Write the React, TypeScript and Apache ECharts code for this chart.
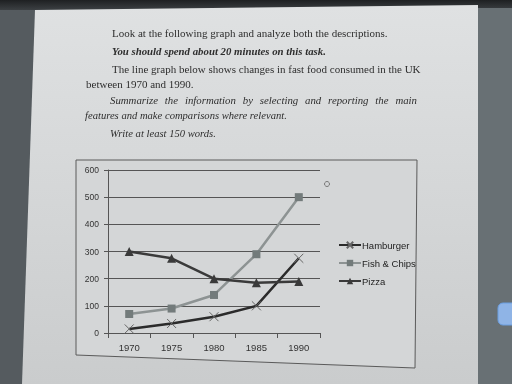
import React, { useEffect, useRef } from "react";
import * as echarts from "echarts";

const years = ["1970", "1975", "1980", "1985", "1990"];
const hamburger = [15, 35, 60, 100, 275];
const fishChips = [70, 90, 140, 290, 500];
const pizza = [300, 275, 200, 185, 190];

const textLines = [
  { t: "Look at the following graph and analyze both the descriptions.", x: 112, y: 33, s: "normal", w: "normal", f: 11, j: 0 },
  { t: "You should spend about 20 minutes on this task.", x: 112, y: 51, s: "italic", w: "bold", f: 10.8, j: 0 },
  { t: "The line graph below shows changes in fast food consumed in the UK", x: 112, y: 69, s: "normal", w: "normal", f: 11, j: 0 },
  { t: "between 1970 and 1990.", x: 86, y: 84, s: "normal", w: "normal", f: 11, j: 0 },
  { t: "Summarize the information by selecting and reporting the main", x: 110, y: 100, s: "italic", w: "normal", f: 10.8, j: 417 },
  { t: "features and make comparisons where relevant.", x: 85, y: 115, s: "italic", w: "normal", f: 10.6, j: 0 },
  { t: "Write at least 150 words.", x: 110, y: 133, s: "italic", w: "normal", f: 10.6, j: 0 },
];

export default function App() {
  const ref = useRef<HTMLDivElement>(null);
  useEffect(() => {
    document.body.style.margin = "0";
    const chart = echarts.init(ref.current!, null, { renderer: "svg" });
    const graphics: any[] = [
      { type: "rect", z: -10, shape: { x: 0, y: 0, width: 512, height: 384 }, style: { fill: "#555b5f" } },
      {
        type: "rect", z: -10, shape: { x: 0, y: 0, width: 512, height: 10 },
        style: { fill: new echarts.graphic.LinearGradient(0, 0, 0, 1, [{ offset: 0, color: "#1e2022" }, { offset: 1, color: "#3c4043" }]) },
      },
      { type: "rect", z: -10, shape: { x: 478, y: 8, width: 34, height: 376 }, style: { fill: "#687074" } },
      {
        type: "polygon", z: -9,
        shape: { points: [[35, 10], [478, 5], [478, 384], [22, 384]] },
        style: {
          fill: new echarts.graphic.LinearGradient(0, 0, 0, 1, [
            { offset: 0, color: "#dfe1e2" },
            { offset: 1, color: "#cacccd" },
          ]),
        },
      },
      {
        type: "rect", z: -8, shape: { x: 498, y: 303, width: 20, height: 22, r: 5 },
        style: { fill: "#8fb4e6", stroke: "#6b9ee0", lineWidth: 1 },
      },
      {
        type: "polygon", z: -7,
        shape: { points: [[76, 160], [417, 160], [415, 368], [76, 355]] },
        style: { fill: "#d4d6d7", stroke: "#5a5a5a", lineWidth: 1 },
      },
      { type: "circle", z: -6, shape: { cx: 327, cy: 184, r: 2.5 }, style: { fill: "none", stroke: "#777", lineWidth: 1 } },
    ];
    const ctx = document.createElement("canvas").getContext("2d")!;
    textLines.forEach((l) => {
      const font = `${l.s} ${l.w} ${l.f}px "Liberation Serif", "DejaVu Serif", serif`;
      if (l.j) {
        ctx.font = font;
        const words = l.t.split(" ");
        const widths = words.map((w) => ctx.measureText(w).width);
        const total = widths.reduce((a, b) => a + b, 0);
        const gap = (l.j - l.x - total) / (words.length - 1);
        let cx = l.x;
        words.forEach((w, i) => {
          graphics.push({
            type: "text", x: cx, y: l.y,
            style: { text: w, fill: "#2e2e2e", font, verticalAlign: "middle" },
          });
          cx += widths[i] + gap;
        });
      } else {
        graphics.push({
          type: "text", x: l.x, y: l.y,
          style: { text: l.t, fill: "#2e2e2e", font, verticalAlign: "middle" },
        });
      }
    });
    const sans = "Liberation Sans, Arial, sans-serif";
    chart.setOption({
      animation: false,
      backgroundColor: "transparent",
      graphic: graphics,
      grid: { left: 108, right: 192, top: 170, bottom: 51, containLabel: false },
      legend: {
        orient: "vertical",
        left: 333,
        top: 235,
        itemGap: 8,
        itemWidth: 22,
        itemHeight: 8,
        textStyle: { fontFamily: sans, fontSize: 9.5, color: "#222", padding: [0, 0, 0, -4] },
        data: ["Hamburger", "Fish & Chips", "Pizza"],
      },
      xAxis: {
        type: "category",
        data: years,
        boundaryGap: true,
        axisLine: { lineStyle: { color: "#555", width: 1 } },
        axisTick: { show: true, length: 5, lineStyle: { color: "#555" } },
        axisLabel: { color: "#333", fontFamily: sans, fontSize: 9.5, margin: 9 },
      },
      yAxis: {
        type: "value",
        min: 0,
        max: 600,
        interval: 100,
        axisLine: { show: true, lineStyle: { color: "#555", width: 1 } },
        axisTick: { show: true, length: 4, lineStyle: { color: "#555" } },
        axisLabel: { color: "#333", fontFamily: sans, fontSize: 8.5, margin: 9 },
        splitLine: { lineStyle: { color: "#555", width: 1 } },
      },
      series: [
        {
          name: "Hamburger", type: "line", data: hamburger,
          symbol: "path://M0,0L10,10M10,0L0,10", symbolSize: 9,
          lineStyle: { color: "#2b2b2b", width: 2.5 },
          itemStyle: { color: "#2b2b2b", borderColor: "#666", borderWidth: 1 },
        },
        {
          name: "Fish & Chips", type: "line", data: fishChips,
          symbol: "rect", symbolSize: 8,
          lineStyle: { color: "#8d9393", width: 2.5 },
          itemStyle: { color: "#737b7b" },
        },
        {
          name: "Pizza", type: "line", data: pizza,
          symbol: "triangle", symbolSize: 9,
          lineStyle: { color: "#3a3a3a", width: 2.5 },
          itemStyle: { color: "#3a3a3a" },
        },
      ],
    });
    return () => chart.dispose();
  }, []);
  return <div ref={ref} style={{ position: "fixed", left: 0, top: 0, width: 512, height: 384 }} />;
}
